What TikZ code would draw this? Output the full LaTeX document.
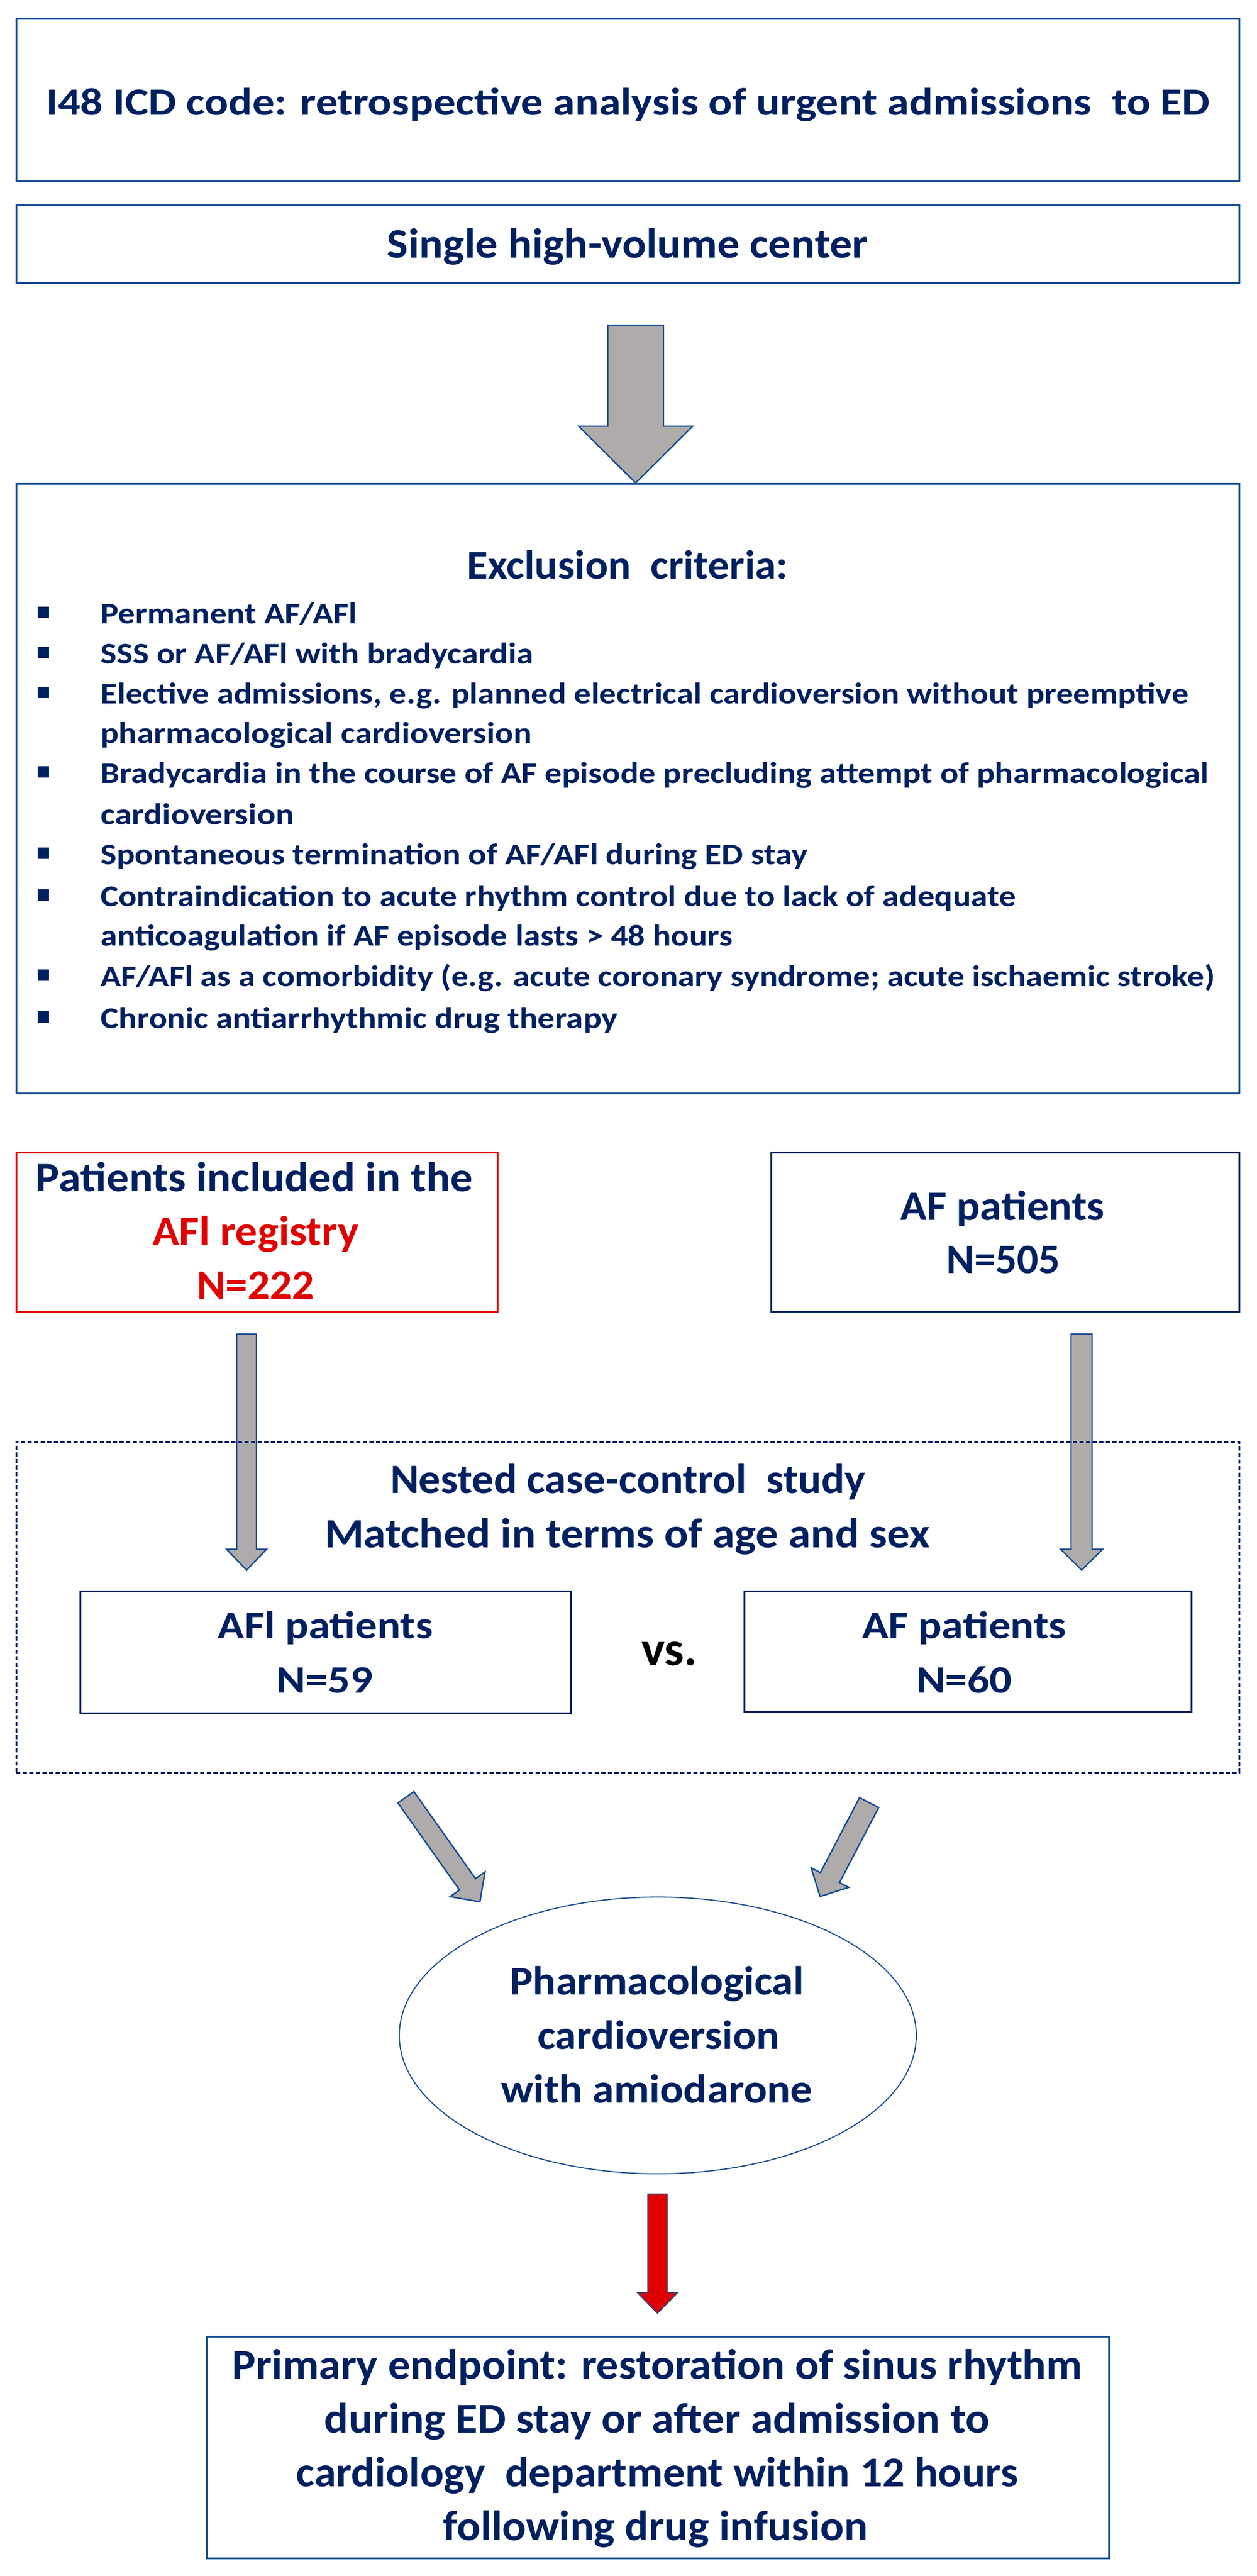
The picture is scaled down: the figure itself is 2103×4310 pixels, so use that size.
\documentclass[tikz,border=0pt]{standalone}
\usepackage{fontspec}
\usepackage{graphicx}
\setmainfont{Carlito}
\usetikzlibrary{shapes.geometric,calc}
\definecolor{navy}{HTML}{002060}
\definecolor{boxblue}{HTML}{174E92}
\definecolor{agray}{HTML}{AFABAB}
\definecolor{ared}{HTML}{E00000}
\newcommand\blockarr[6]{%
 \coordinate (bah) at ($(#2)!#5!(#1)$);
 \draw[#6] ($(#1)!#3!90:(#2)$) -- ($(bah)!#3!-90:(#1)$) -- ($(bah)!#4!-90:(#1)$) -- (#2) -- ($(bah)!#4!90:(#1)$) -- ($(bah)!#3!90:(#1)$) -- ($(#1)!#3!-90:(#2)$) -- cycle;}
\newcommand\fw[2]{\resizebox{#1pt}{\height}{#2}}
\begin{document}
\begin{tikzpicture}[x=0.5pt,y=-0.5pt,
  frame/.style={draw=boxblue,line width=1.5pt,inner sep=0pt,rectangle},
  nframe/.style={draw=navy,line width=1.5pt,inner sep=0pt,rectangle},
  txt/.style={text=navy,font=\bfseries\fontsize{35}{42}\selectfont,inner sep=0pt,anchor=base},
  listtxt/.style={text=navy,font=\bfseries\fontsize{25}{30}\selectfont,inner sep=0pt,anchor=base west},
  bullet/.style={fill=navy,minimum size=9.5pt,inner sep=0pt,rectangle},
  blk/.style={fill=agray,draw=boxblue,line width=1.2pt,line join=miter},
  redblk/.style={fill=ared,draw=boxblue!70!ared,line width=1.2pt,line join=miter},
]
\useasboundingbox (0,0) rectangle (2103,4310);
% top boxes
\node[frame,minimum width=1023pt,minimum height=136pt] (b1) at (1050,167) {};
\node[txt,font=\bfseries\fontsize{32.3}{38}\selectfont] (t1) at (1051,192) {\fw{973.5}{I48 ICD code: retrospective analysis of urgent admissions\ \ to ED}};
\node[frame,minimum width=1023pt,minimum height=65pt] (b2) at (1050,408) {};
\node[txt] (t2) at (1050,431) {\fw{402}{Single high-volume center}};
% main arrow
\coordinate (a1s) at (1063.5,544);
\coordinate (a1e) at (1063.5,808);
\blockarr{a1s}{a1e}{23.25pt}{47.75pt}{47.5pt}{blk}
% exclusion box
\node[frame,minimum width=1023pt,minimum height=510pt] (b3) at (1050,1319) {};
\node[txt,font=\bfseries\fontsize{34}{40}\selectfont] (t3) at (1050,968) {\fw{268.5}{Exclusion\ \ criteria:}};
\node[listtxt] (l1) at (168,1043) {\fw{214.5}{Permanent AF/AFl}};
\node[listtxt] (l2) at (168,1110) {\fw{362}{SSS or AF/AFl with bradycardia}};
\node[listtxt] (l3) at (168,1177) {\fw{910}{Elective admissions, e.g. planned electrical cardioversion without preemptive}};
\node[listtxt] (l4) at (168,1243) {\fw{360.5}{pharmacological cardioversion}};
\node[listtxt] (l5) at (168,1310) {\fw{927}{Bradycardia in the course of AF episode precluding attempt of pharmacological}};
\node[listtxt] (l6) at (168,1379) {\fw{162}{cardioversion}};
\node[listtxt] (l7) at (168,1446) {\fw{591.5}{Spontaneous termination of AF/AFl during ED stay}};
\node[listtxt] (l8) at (168,1516) {\fw{765.5}{Contraindication to acute rhythm control due to lack of adequate}};
\node[listtxt] (l9) at (168,1582) {\fw{528.5}{anticoagulation if AF episode lasts > 48 hours}};
\node[listtxt] (l10) at (168,1650) {\fw{932}{AF/AFl as a comorbidity (e.g. acute coronary syndrome; acute ischaemic stroke)}};
\node[listtxt] (l11) at (168,1720) {\fw{432.5}{Chronic antiarrhythmic drug therapy}};
\node[bullet] (bu1) at (72.5,1024) {};
\node[bullet] (bu2) at (72.5,1091) {};
\node[bullet] (bu3) at (72.5,1158) {};
\node[bullet] (bu4) at (72.5,1291) {};
\node[bullet] (bu5) at (72.5,1427) {};
\node[bullet] (bu6) at (72.5,1497) {};
\node[bullet] (bu7) at (72.5,1631) {};
\node[bullet] (bu8) at (72.5,1701) {};
% registry boxes
\node[draw=ared,line width=1.5pt,inner sep=0pt,minimum width=402.5pt,minimum height=133pt] (b4) at (429.5,2061) {};
\node[txt] (t4a) at (425.5,1993) {\fw{365.5}{Patients included in the}};
\node[txt,text=ared] (t4b) at (427.5,2083) {\fw{172.5}{AFl registry}};
\node[txt,text=ared] (t4c) at (427.5,2173) {\fw{98.5}{N=222}};
\node[nframe,minimum width=391.5pt,minimum height=133pt] (b5) at (1681.5,2061) {};
\node[txt] (t5a) at (1677,2041) {\fw{171}{AF patients}};
\node[txt] (t5b) at (1678.5,2130) {\fw{95.5}{N=505}};
% vertical arrows
\coordinate (a2s) at (412.5,2232);
\coordinate (a2e) at (412.5,2627);
\blockarr{a2s}{a2e}{8.25pt}{16.75pt}{17.5pt}{blk}
\coordinate (a3s) at (1809.5,2232);
\coordinate (a3e) at (1809.5,2627);
\blockarr{a3s}{a3e}{8.75pt}{17.5pt}{17.5pt}{blk}
% nested study box
\node[draw=navy,line width=1.5pt,dash pattern=on 3.5pt off 2pt,inner sep=0pt,minimum width=1023pt,minimum height=277pt] (b6) at (1050,2689) {};
\node[txt] (t6a) at (1050.5,2498) {\fw{397.5}{Nested case-control\ \ study}};
\node[txt] (t6b) at (1049.5,2589) {\fw{506.5}{Matched in terms of age and sex}};
\node[nframe,minimum width=410.5pt,minimum height=102pt] (b7) at (544.5,2764) {};
\node[txt,font=\bfseries\fontsize{32.5}{40}\selectfont] (t7a) at (544.5,2741) {\fw{179.5}{AFl patients}};
\node[txt,font=\bfseries\fontsize{32.5}{40}\selectfont] (t7b) at (543.5,2832) {\fw{80.5}{N=59}};
\node[nframe,minimum width=374pt,minimum height=101pt] (b8) at (1619,2763) {};
\node[txt,font=\bfseries\fontsize{32.5}{40}\selectfont] (t8a) at (1613,2741) {\fw{171}{AF patients}};
\node[txt,font=\bfseries\fontsize{32.5}{40}\selectfont] (t8b) at (1613,2832) {\fw{80}{N=60}};
\node[txt,text=black,font=\bfseries\fontsize{40}{48}\selectfont] (vs) at (1120,2786) {\fw{47}{vs.}};
% diagonal arrows
\coordinate (a4s) at (679,3007);
\coordinate (a4e) at (803,3182);
\blockarr{a4s}{a4e}{8.2pt}{17.9pt}{18pt}{blk}
\coordinate (a5s) at (1454,3016);
\coordinate (a5e) at (1372,3173);
\blockarr{a5s}{a5e}{9pt}{17.75pt}{17.8pt}{blk}
% ellipse
\node[ellipse,draw=boxblue,line width=0.9pt,inner sep=0pt,minimum width=432.5pt,minimum height=231.5pt] (e1) at (1100.5,3405.5) {};
\node[txt,font=\bfseries\fontsize{34}{40}\selectfont] (te1) at (1099,3337) {\fw{246}{Pharmacological}};
\node[txt,font=\bfseries\fontsize{34}{40}\selectfont] (te2) at (1101.5,3428) {\fw{202.5}{cardioversion}};
\node[txt,font=\bfseries\fontsize{34}{40}\selectfont] (te3) at (1098.5,3518) {\fw{260.5}{with amiodarone}};
% red arrow
\coordinate (a6s) at (1100,3671);
\coordinate (a6e) at (1100,3870);
\blockarr{a6s}{a6e}{8pt}{16.5pt}{17pt}{redblk}
% final box
\node[frame,minimum width=754.5pt,minimum height=185.5pt] (b9) at (1100.5,4094.5) {};
\node[txt,font=\bfseries\fontsize{35.5}{42}\selectfont] (t9a) at (1100,3980) {\fw{711}{Primary endpoint: restoration of sinus rhythm}};
\node[txt,font=\bfseries\fontsize{35.5}{42}\selectfont] (t9b) at (1099.5,4070) {\fw{556.5}{during ED stay or after admission to}};
\node[txt,font=\bfseries\fontsize{35.5}{42}\selectfont] (t9c) at (1099.5,4160) {\fw{603.5}{cardiology\ \ department within 12 hours}};
\node[txt,font=\bfseries\fontsize{35.5}{42}\selectfont] (t9d) at (1097,4250) {\fw{355}{following drug infusion}};
\end{tikzpicture}
\end{document}
